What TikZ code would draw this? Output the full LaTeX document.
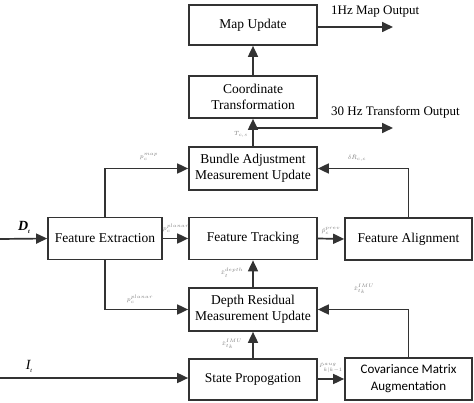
\documentclass[tikz,border=0pt]{standalone}
\usepackage{fontspec}
\setmainfont{Liberation Serif}
\newfontfamily\calib{Carlito}
\usetikzlibrary{arrows.meta}
\begin{document}
\begin{tikzpicture}[x=1pt,y=-1pt,
  blk/.style={draw=black!80,line width=1.7pt,minimum width=128pt,minimum height=42pt,inner sep=0pt,align=center,font=\fontsize{13.5}{16}\selectfont},
  conn/.style={draw=black!80,line width=1.7pt,-{Triangle[length=11pt,width=10pt]}},
  lbl/.style={font=\fontsize{6.5}{7}\selectfont,text=black!50,inner sep=0.5pt},
  outtxt/.style={font=\fontsize{13}{15}\selectfont,anchor=west,inner sep=0pt}]
\useasboundingbox (0,0) rectangle (474,403);
\node[blk,minimum height=40pt] (mu) at (253,25) {Map Update};
\node[blk] (ct) at (253,97) {Coordinate\\Transformation};
\node[blk,minimum height=43pt] (ba) at (253,168.5) {Bundle Adjustment\\Measurement Update};
\node[blk,minimum width=114pt] (fe) at (105,238.5) {Feature Extraction};
\node[blk] (ft) at (253,238.5) {Feature Tracking};
\node[blk,minimum width=127pt] (fa) at (408.5,239) {Feature Alignment};
\node[blk,minimum height=43pt] (dr) at (253,309.5) {Depth Residual\\Measurement Update};
\node[blk,minimum height=41pt] (sp) at (253,379.5) {State Propogation};
\node[blk,minimum width=127pt,font=\calib\fontsize{13}{17}\selectfont] (cma) at (408.5,379) {Covariance Matrix\\Augmentation};
% inputs
\coordinate (din) at (0,239);
\coordinate (iin) at (0,378);
\draw[conn] (din) -- (fe.west);
\draw[conn] (iin) -- (sp.west |- iin);
\node[font=\fontsize{14}{15}\selectfont\bfseries\itshape] (dl) at (24,227) {D\raisebox{-3pt}{\fontsize{6}{6}\selectfont t}};
\node[font=\fontsize{14}{15}\selectfont\itshape] (il) at (29,366) {I\raisebox{-3pt}{\fontsize{6}{6}\selectfont t}};
% outputs
\coordinate (mo) at (393,27);
\draw[conn] (mu.east |- mo) -- (mo);
\node[outtxt] (mot) at (331,12) {1Hz Map Output};
\coordinate (j) at (253,128);
\coordinate (to) at (393,128);
\draw[conn] (ba.north) -- (ct.south);
\draw[conn] (j) -- (to);
\node[outtxt] (tot) at (331,112) {30 Hz Transform Output};
\draw[conn] (ct.north) -- (mu.south);
% feature paths
\draw[conn] (fe.north) |- (ba.west);
\draw[conn] (fe.south) |- (dr.west);
\draw[conn] (fe.east) -- (ft.west);
\draw[conn] (ft.east) -- (fa.west);
\draw[conn] (fa.north) |- (ba.east);
\draw[conn] (dr.north) -- (ft.south);
\draw[conn] (sp.north) -- (dr.south);
\draw[conn] (cma.north) |- (dr.east);
\draw[conn] (sp.east |- cma) -- (cma.west);
% labels
\node[lbl] (l1) at (149,157) {$p_c^{map}$};
\node[lbl] (l2) at (176,228) {$p_c^{planar}$};
\node[lbl] (l3) at (331,231) {$\hat{p}_c^{prev}$};
\node[lbl] (l4) at (357,158) {$\delta\hat{R}_{c,c}$};
\node[lbl] (l5) at (241,134) {$T_{c,s}$};
\node[lbl] (l6) at (140,299) {$p_c^{planar}$};
\node[lbl] (l7) at (232,273) {$\hat{x}_t^{depth}$};
\node[lbl] (l8) at (364,289) {$\hat{x}_{t_k}^{IMU}$};
\node[lbl] (l9) at (232,344) {$\hat{x}_{t_k}^{IMU}$};
\node[lbl,font=\fontsize{5.5}{6}\selectfont] (l10) at (331,368) {$\hat{P}_{k|k-1}^{aug}$};
\end{tikzpicture}
\end{document}
